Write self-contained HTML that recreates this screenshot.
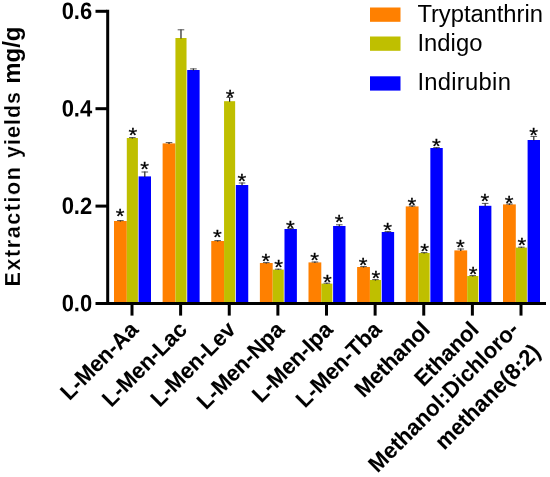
<!DOCTYPE html><html><head><meta charset="utf-8"><title>Extraction yields</title>
<style>html,body{margin:0;padding:0;background:#fff}svg{display:block}text{font-family:"Liberation Sans",Arial,sans-serif;fill:#000}.b{font-weight:bold;stroke:#000;stroke-width:0.12px}</style></head><body>
<svg width="550" height="477" viewBox="0 0 550 477">
<rect width="550" height="477" fill="#fff"/>
<rect x="114.00" y="221.00" width="12.80" height="82.50" fill="#FF8000"/>
<path d="M120.40 221.50V220.20" stroke="#222" stroke-width="1.2" fill="none"/><path d="M117.10 220.60H123.70" stroke="#444" stroke-width="0.9" fill="none"/>
<text transform="translate(120.00 223.20) scale(1 0.9)" font-size="22.5" text-anchor="middle" stroke="#000" stroke-width="0.3">*</text>
<rect x="126.80" y="138.00" width="11.10" height="165.50" fill="#BFBF00"/>
<path d="M132.35 138.50V137.20" stroke="#222" stroke-width="1.2" fill="none"/><path d="M129.05 137.60H135.65" stroke="#444" stroke-width="0.9" fill="none"/>
<text transform="translate(132.75 142.10) scale(1 0.9)" font-size="22.5" text-anchor="middle" stroke="#000" stroke-width="0.3">*</text>
<rect x="138.60" y="176.40" width="12.40" height="127.10" fill="#0000FF"/>
<path d="M144.80 176.90V171.60" stroke="#222" stroke-width="1.2" fill="none"/><path d="M141.50 172.00H148.10" stroke="#444" stroke-width="0.9" fill="none"/>
<text transform="translate(144.50 175.50) scale(1 0.9)" font-size="22.5" text-anchor="middle" stroke="#000" stroke-width="0.3">*</text>
<rect x="162.62" y="143.40" width="12.80" height="160.10" fill="#FF8000"/>
<path d="M169.03 143.90V142.20" stroke="#222" stroke-width="1.2" fill="none"/><path d="M165.72 142.60H172.33" stroke="#444" stroke-width="0.9" fill="none"/>
<rect x="175.43" y="38.00" width="11.10" height="265.50" fill="#BFBF00"/>
<path d="M180.98 38.50V29.40" stroke="#222" stroke-width="1.2" fill="none"/><path d="M177.68 29.80H184.28" stroke="#444" stroke-width="0.9" fill="none"/>
<rect x="187.22" y="70.00" width="12.40" height="233.50" fill="#0000FF"/>
<path d="M193.43 70.50V68.50" stroke="#222" stroke-width="1.2" fill="none"/><path d="M190.12 68.90H196.73" stroke="#444" stroke-width="0.9" fill="none"/>
<rect x="211.25" y="241.00" width="12.80" height="62.50" fill="#FF8000"/>
<path d="M217.65 241.50V240.20" stroke="#222" stroke-width="1.2" fill="none"/><path d="M214.35 240.60H220.95" stroke="#444" stroke-width="0.9" fill="none"/>
<text transform="translate(217.25 244.10) scale(1 0.9)" font-size="22.5" text-anchor="middle" stroke="#000" stroke-width="0.3">*</text>
<rect x="224.05" y="101.20" width="11.10" height="202.30" fill="#BFBF00"/>
<path d="M229.60 101.70V97.00" stroke="#222" stroke-width="1.2" fill="none"/><path d="M226.30 97.40H232.90" stroke="#444" stroke-width="0.9" fill="none"/>
<text transform="translate(230.00 103.50) scale(1 0.9)" font-size="22.5" text-anchor="middle" stroke="#000" stroke-width="0.3">*</text>
<rect x="235.85" y="185.00" width="12.40" height="118.50" fill="#0000FF"/>
<path d="M242.05 185.50V182.60" stroke="#222" stroke-width="1.2" fill="none"/><path d="M238.75 183.00H245.35" stroke="#444" stroke-width="0.9" fill="none"/>
<text transform="translate(241.75 187.90) scale(1 0.9)" font-size="22.5" text-anchor="middle" stroke="#000" stroke-width="0.3">*</text>
<rect x="259.88" y="263.00" width="12.80" height="40.50" fill="#FF8000"/>
<path d="M266.27 263.50V262.20" stroke="#222" stroke-width="1.2" fill="none"/><path d="M262.97 262.60H269.57" stroke="#444" stroke-width="0.9" fill="none"/>
<text transform="translate(265.88 267.90) scale(1 0.9)" font-size="22.5" text-anchor="middle" stroke="#000" stroke-width="0.3">*</text>
<rect x="272.68" y="269.60" width="11.10" height="33.90" fill="#BFBF00"/>
<path d="M278.23 270.10V268.80" stroke="#222" stroke-width="1.2" fill="none"/><path d="M274.93 269.20H281.53" stroke="#444" stroke-width="0.9" fill="none"/>
<text transform="translate(278.62 274.10) scale(1 0.9)" font-size="22.5" text-anchor="middle" stroke="#000" stroke-width="0.3">*</text>
<rect x="284.48" y="229.00" width="12.40" height="74.50" fill="#0000FF"/>
<path d="M290.68 229.50V228.20" stroke="#222" stroke-width="1.2" fill="none"/><path d="M287.38 228.60H293.98" stroke="#444" stroke-width="0.9" fill="none"/>
<text transform="translate(290.38 234.50) scale(1 0.9)" font-size="22.5" text-anchor="middle" stroke="#000" stroke-width="0.3">*</text>
<rect x="308.50" y="262.40" width="12.80" height="41.10" fill="#FF8000"/>
<path d="M314.90 262.90V261.60" stroke="#222" stroke-width="1.2" fill="none"/><path d="M311.60 262.00H318.20" stroke="#444" stroke-width="0.9" fill="none"/>
<text transform="translate(314.50 266.70) scale(1 0.9)" font-size="22.5" text-anchor="middle" stroke="#000" stroke-width="0.3">*</text>
<rect x="321.30" y="283.60" width="11.10" height="19.90" fill="#BFBF00"/>
<path d="M326.85 284.10V282.80" stroke="#222" stroke-width="1.2" fill="none"/><path d="M323.55 283.20H330.15" stroke="#444" stroke-width="0.9" fill="none"/>
<text transform="translate(327.25 288.50) scale(1 0.9)" font-size="22.5" text-anchor="middle" stroke="#000" stroke-width="0.3">*</text>
<rect x="333.10" y="226.00" width="12.40" height="77.50" fill="#0000FF"/>
<path d="M339.30 226.50V224.40" stroke="#222" stroke-width="1.2" fill="none"/><path d="M336.00 224.80H342.60" stroke="#444" stroke-width="0.9" fill="none"/>
<text transform="translate(339.00 228.70) scale(1 0.9)" font-size="22.5" text-anchor="middle" stroke="#000" stroke-width="0.3">*</text>
<rect x="357.12" y="267.00" width="12.80" height="36.50" fill="#FF8000"/>
<path d="M363.52 267.50V266.20" stroke="#222" stroke-width="1.2" fill="none"/><path d="M360.22 266.60H366.82" stroke="#444" stroke-width="0.9" fill="none"/>
<text transform="translate(363.12 272.40) scale(1 0.9)" font-size="22.5" text-anchor="middle" stroke="#000" stroke-width="0.3">*</text>
<rect x="369.93" y="280.00" width="11.10" height="23.50" fill="#BFBF00"/>
<path d="M375.48 280.50V279.20" stroke="#222" stroke-width="1.2" fill="none"/><path d="M372.18 279.60H378.78" stroke="#444" stroke-width="0.9" fill="none"/>
<text transform="translate(375.88 284.90) scale(1 0.9)" font-size="22.5" text-anchor="middle" stroke="#000" stroke-width="0.3">*</text>
<rect x="381.73" y="232.00" width="12.40" height="71.50" fill="#0000FF"/>
<path d="M387.93 232.50V231.20" stroke="#222" stroke-width="1.2" fill="none"/><path d="M384.62 231.60H391.23" stroke="#444" stroke-width="0.9" fill="none"/>
<text transform="translate(387.62 236.90) scale(1 0.9)" font-size="22.5" text-anchor="middle" stroke="#000" stroke-width="0.3">*</text>
<rect x="405.75" y="206.40" width="12.80" height="97.10" fill="#FF8000"/>
<path d="M412.15 206.90V205.60" stroke="#222" stroke-width="1.2" fill="none"/><path d="M408.85 206.00H415.45" stroke="#444" stroke-width="0.9" fill="none"/>
<text transform="translate(411.75 211.60) scale(1 0.9)" font-size="22.5" text-anchor="middle" stroke="#000" stroke-width="0.3">*</text>
<rect x="418.55" y="253.00" width="11.10" height="50.50" fill="#BFBF00"/>
<path d="M424.10 253.50V252.20" stroke="#222" stroke-width="1.2" fill="none"/><path d="M420.80 252.60H427.40" stroke="#444" stroke-width="0.9" fill="none"/>
<text transform="translate(424.50 258.20) scale(1 0.9)" font-size="22.5" text-anchor="middle" stroke="#000" stroke-width="0.3">*</text>
<rect x="430.35" y="148.00" width="12.40" height="155.50" fill="#0000FF"/>
<path d="M436.55 148.50V147.20" stroke="#222" stroke-width="1.2" fill="none"/><path d="M433.25 147.60H439.85" stroke="#444" stroke-width="0.9" fill="none"/>
<text transform="translate(436.25 153.10) scale(1 0.9)" font-size="22.5" text-anchor="middle" stroke="#000" stroke-width="0.3">*</text>
<rect x="454.38" y="250.40" width="12.80" height="53.10" fill="#FF8000"/>
<path d="M460.77 250.90V248.60" stroke="#222" stroke-width="1.2" fill="none"/><path d="M457.47 249.00H464.07" stroke="#444" stroke-width="0.9" fill="none"/>
<text transform="translate(460.38 253.70) scale(1 0.9)" font-size="22.5" text-anchor="middle" stroke="#000" stroke-width="0.3">*</text>
<rect x="467.18" y="276.00" width="11.10" height="27.50" fill="#BFBF00"/>
<path d="M472.73 276.50V275.20" stroke="#222" stroke-width="1.2" fill="none"/><path d="M469.43 275.60H476.03" stroke="#444" stroke-width="0.9" fill="none"/>
<text transform="translate(473.12 280.60) scale(1 0.9)" font-size="22.5" text-anchor="middle" stroke="#000" stroke-width="0.3">*</text>
<rect x="478.98" y="205.80" width="12.40" height="97.70" fill="#0000FF"/>
<path d="M485.18 206.30V203.00" stroke="#222" stroke-width="1.2" fill="none"/><path d="M481.88 203.40H488.48" stroke="#444" stroke-width="0.9" fill="none"/>
<text transform="translate(484.88 208.10) scale(1 0.9)" font-size="22.5" text-anchor="middle" stroke="#000" stroke-width="0.3">*</text>
<rect x="503.00" y="204.40" width="12.80" height="99.10" fill="#FF8000"/>
<path d="M509.40 204.90V203.60" stroke="#222" stroke-width="1.2" fill="none"/><path d="M506.10 204.00H512.70" stroke="#444" stroke-width="0.9" fill="none"/>
<text transform="translate(509.00 209.60) scale(1 0.9)" font-size="22.5" text-anchor="middle" stroke="#000" stroke-width="0.3">*</text>
<rect x="515.80" y="247.60" width="11.10" height="55.90" fill="#BFBF00"/>
<path d="M521.35 248.10V246.80" stroke="#222" stroke-width="1.2" fill="none"/><path d="M518.05 247.20H524.65" stroke="#444" stroke-width="0.9" fill="none"/>
<text transform="translate(521.75 251.50) scale(1 0.9)" font-size="22.5" text-anchor="middle" stroke="#000" stroke-width="0.3">*</text>
<rect x="527.60" y="140.00" width="12.40" height="163.50" fill="#0000FF"/>
<path d="M533.80 140.50V136.00" stroke="#222" stroke-width="1.2" fill="none"/><path d="M530.50 136.40H537.10" stroke="#444" stroke-width="0.9" fill="none"/>
<text transform="translate(533.50 141.60) scale(1 0.9)" font-size="22.5" text-anchor="middle" stroke="#000" stroke-width="0.3">*</text>
<path d="M107.7 9.8V305M106.2 303.5H546" stroke="#000" stroke-width="3" fill="none"/>
<path d="M95.5 303.50H107" stroke="#000" stroke-width="3"/>
<text font-weight="bold" transform="translate(92.2 311.30) rotate(0.05) scale(1 1.08)" font-size="22" text-anchor="end">0.0</text>
<path d="M95.5 206.10H107" stroke="#000" stroke-width="3"/>
<text font-weight="bold" transform="translate(92.2 213.90) rotate(0.05) scale(1 1.08)" font-size="22" text-anchor="end">0.2</text>
<path d="M95.5 108.70H107" stroke="#000" stroke-width="3"/>
<text font-weight="bold" transform="translate(92.2 116.50) rotate(0.05) scale(1 1.08)" font-size="22" text-anchor="end">0.4</text>
<path d="M95.5 11.30H107" stroke="#000" stroke-width="3"/>
<text font-weight="bold" transform="translate(92.2 19.10) rotate(0.05) scale(1 1.08)" font-size="22" text-anchor="end">0.6</text>
<path d="M132.00 304V315.6" stroke="#000" stroke-width="3"/>
<text class="b" font-size="21.8" text-anchor="end" transform="translate(139.60 331.00) rotate(-45) scale(1 1.03)">L-Men-Aa</text>
<path d="M180.62 304V315.6" stroke="#000" stroke-width="3"/>
<text class="b" font-size="21.8" text-anchor="end" transform="translate(188.22 331.00) rotate(-45) scale(1 1.03)">L-Men-Lac</text>
<path d="M229.25 304V315.6" stroke="#000" stroke-width="3"/>
<text class="b" font-size="21.8" text-anchor="end" transform="translate(236.85 331.00) rotate(-45) scale(1 1.03)">L-Men-Lev</text>
<path d="M277.88 304V315.6" stroke="#000" stroke-width="3"/>
<text class="b" font-size="21.8" text-anchor="end" transform="translate(285.48 331.00) rotate(-45) scale(1 1.03)">L-Men-Npa</text>
<path d="M326.50 304V315.6" stroke="#000" stroke-width="3"/>
<text class="b" font-size="21.8" text-anchor="end" transform="translate(334.10 331.00) rotate(-45) scale(1 1.03)">L-Men-Ipa</text>
<path d="M375.12 304V315.6" stroke="#000" stroke-width="3"/>
<text class="b" font-size="21.8" text-anchor="end" transform="translate(382.73 331.00) rotate(-45) scale(1 1.03)">L-Men-Tba</text>
<path d="M423.75 304V315.6" stroke="#000" stroke-width="3"/>
<text class="b" font-size="21.8" text-anchor="end" transform="translate(431.35 331.00) rotate(-45) scale(1 1.03)">Methanol</text>
<path d="M472.38 304V315.6" stroke="#000" stroke-width="3"/>
<text class="b" font-size="21.8" text-anchor="end" transform="translate(479.98 331.00) rotate(-45) scale(1 1.03)">Ethanol</text>
<path d="M521.00 304V315.6" stroke="#000" stroke-width="3"/>
<text class="b" font-size="21.8" text-anchor="end" transform="translate(520.40 330.60) rotate(-45) scale(1 1.03)" style="letter-spacing:0.2px">Methanol:Dichloro-</text>
<text class="b" font-size="21.8" text-anchor="end" transform="translate(541.70 353.30) rotate(-45) scale(1 1.03)" style="letter-spacing:0.2px">methane(8:2)</text>
<text font-weight="bold" font-size="21.5" transform="translate(19.9 286.4) rotate(-90) scale(1 1.03)" style="letter-spacing:1.58px;stroke:#fff;stroke-width:0.15px">Extraction <tspan style="letter-spacing:1.0px">yields</tspan></text>
<text font-weight="bold" font-size="24" transform="translate(19.9 83.8) rotate(-90)">mg/g</text>
<rect x="370" y="7.5" width="30.5" height="14.3" fill="#FF8000"/>
<text transform="translate(417.4 21.8) scale(1 1.04)" font-size="23.8" style="letter-spacing:-0.05px">Tryptanthrin</text>
<rect x="370" y="36.5" width="30.5" height="14.3" fill="#BFBF00"/>
<text transform="translate(417.4 51.2) scale(1 1.04)" font-size="23.8" style="letter-spacing:0.05px">Indigo</text>
<rect x="370" y="76.3" width="30.5" height="14.3" fill="#0000FF"/>
<text transform="translate(417.4 90.3) scale(1 1.04)" font-size="23.8" style="letter-spacing:0.28px">Indirubin</text>
</svg></body></html>
